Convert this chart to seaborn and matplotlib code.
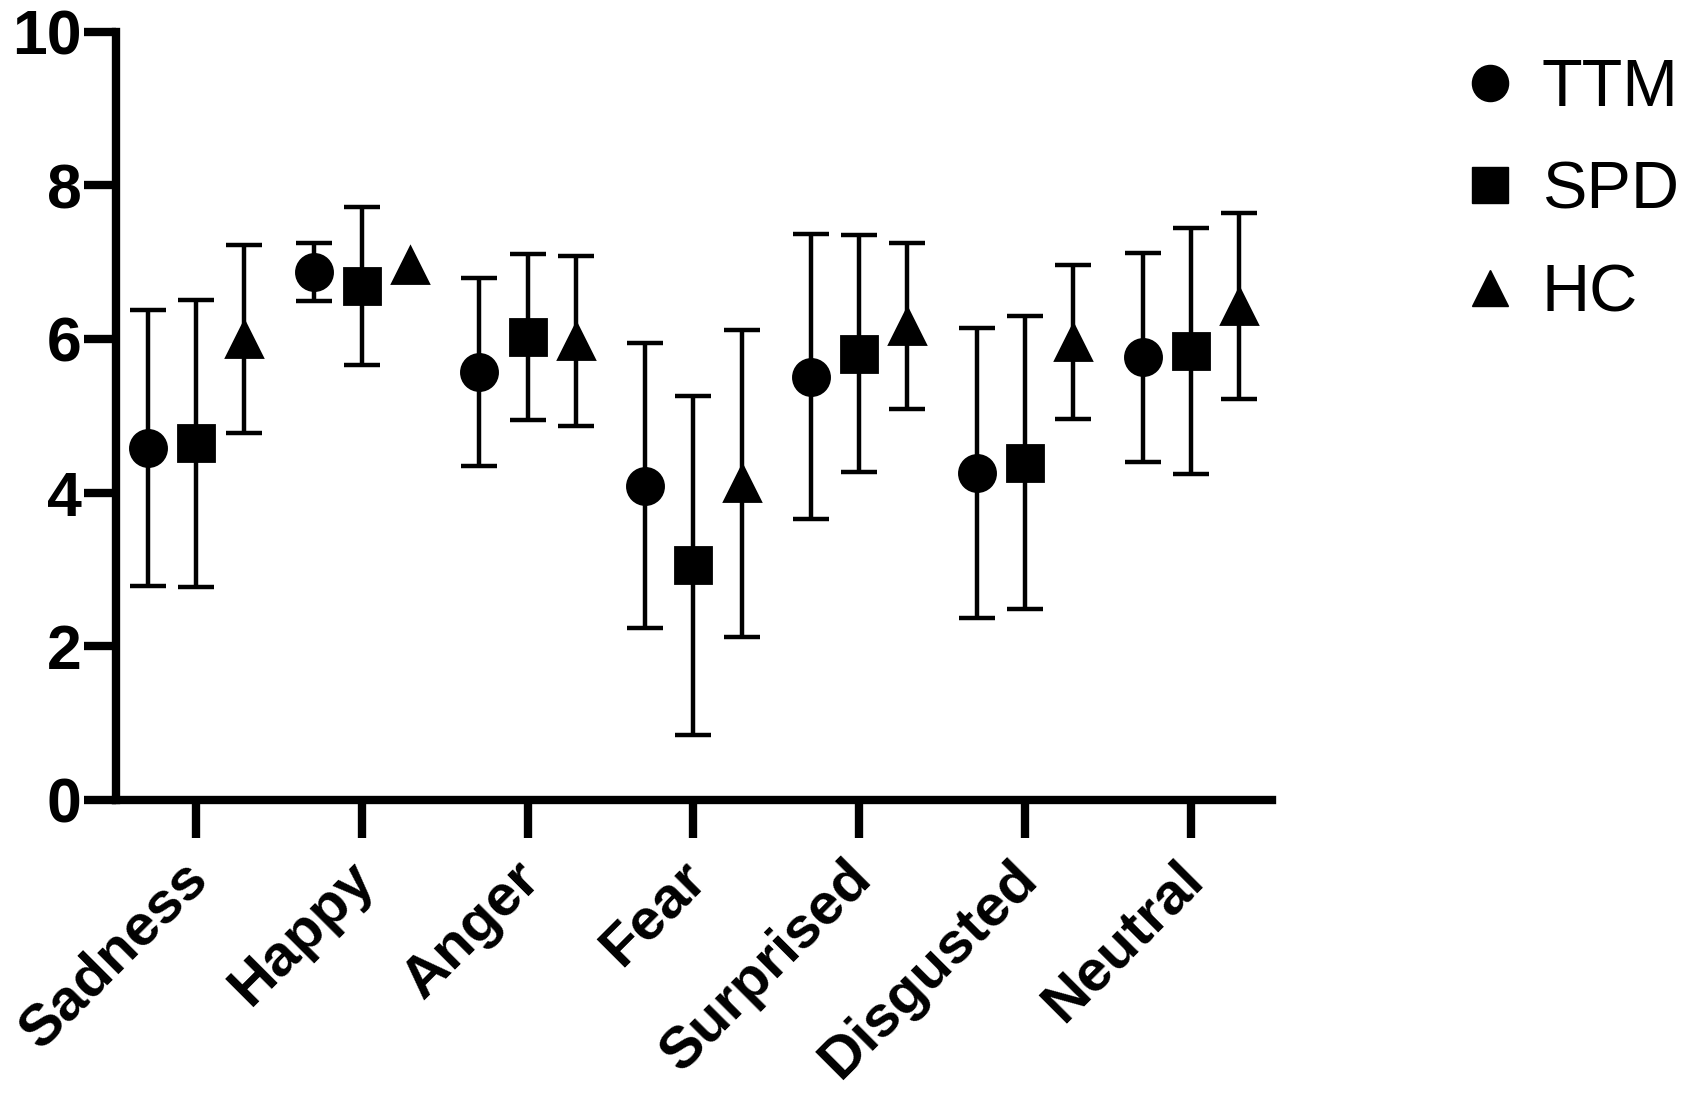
import numpy as np
import pandas as pd
import matplotlib
matplotlib.use("Agg")
import matplotlib.pyplot as plt
from matplotlib.lines import Line2D
from matplotlib.transforms import ScaledTranslation
import seaborn as sns

# Chart values (mean and SD per emotion)
emotions = ["Sadness", "Happy", "Anger", "Fear", "Surprised", "Disgusted", "Neutral"]
groups = ["TTM", "SPD", "HC"]

ttm_mean = [4.58, 6.87, 5.57, 4.09, 5.51, 4.25, 5.76]
ttm_sd = [1.80, 0.38, 1.22, 1.86, 1.85, 1.89, 1.36]
spd_mean = [4.64, 6.69, 6.02, 3.05, 5.81, 4.39, 5.84]
spd_sd = [1.87, 1.03, 1.08, 2.21, 1.54, 1.91, 1.60]
hc_mean = [6.00, 6.96, 5.97, 4.12, 6.17, 5.96, 6.43]
hc_sd = [1.22, 0.0, 1.11, 2.00, 1.08, 1.00, 1.21]

y_ticks = [0, 2, 4, 6, 8, 10]
markers = ["o", "s", "^"]

means = {"TTM": ttm_mean, "SPD": spd_mean, "HC": hc_mean}
sds = {"TTM": ttm_sd, "SPD": spd_sd, "HC": hc_sd}

rows = []
for g in groups:
    for e, m, s in zip(emotions, means[g], sds[g]):
        rows.append({"emotion": e, "group": g, "score": m, "sd": s})
df = pd.DataFrame(rows)

sns.set_style("ticks")
plt.rcParams["font.family"] = ["Liberation Sans", "DejaVu Sans"]
plt.rcParams["text.color"] = "black"
plt.rcParams["axes.edgecolor"] = "black"
plt.rcParams["xtick.color"] = "black"
plt.rcParams["ytick.color"] = "black"

fig = plt.figure(figsize=(17.08, 10.94), dpi=100)
ax = fig.add_axes([0.068, 0.269, 0.677, 0.702])

sns.pointplot(data=df, x="emotion", y="score", hue="group", order=emotions,
              hue_order=groups, palette=["black"] * 3, markers=markers,
              linestyles="none", dodge=0.58, errorbar=None, markersize=26,
              legend=False, ax=ax)

# error bars at the positions seaborn used for each group
for line, g in zip(ax.lines[:3], groups):
    xs = np.asarray(line.get_xdata(), dtype=float)
    sub = df[df["group"] == g].set_index("emotion").loc[emotions]
    keep = sub["sd"].values > 0
    ax.errorbar(xs[keep], sub["score"].values[keep], yerr=sub["sd"].values[keep],
                fmt="none", ecolor="black", elinewidth=3.2, capsize=13,
                capthick=3.2, zorder=1)

ax.set_ylim(0, 10)
ax.set_xlim(-0.48, 6.49)
ax.set_yticks(y_ticks)
ax.set_xlabel("")
ax.set_ylabel("")
sns.despine(ax=ax)
for sp in ["left", "bottom"]:
    ax.spines[sp].set_linewidth(6.0)
ax.tick_params(axis="y", length=23, width=6.0, pad=2, labelsize=45,
               labelcolor="black")
ax.tick_params(axis="x", length=27, width=6.0, pad=10, labelcolor="black")
for t in ax.get_yticklabels():
    t.set_fontweight("bold")
ax.set_xticks(range(len(emotions)))
ax.set_xticklabels(emotions, rotation=45, ha="right", rotation_mode="anchor",
                   fontweight="bold", fontsize=42)
shift = ScaledTranslation(-11 / 72, 0, fig.dpi_scale_trans)
for t in ax.get_xticklabels():
    t.set_transform(t.get_transform() + shift)

handles = [Line2D([], [], marker=m, color="black", linestyle="none", markersize=26)
           for m in markers]
fig.legend(handles, groups, loc="upper left", bbox_to_anchor=(0.853, 0.947),
           frameon=False, fontsize=48, handlelength=1.0, handletextpad=0.27,
           labelspacing=0.61, borderpad=0, borderaxespad=0)

fig.savefig("out.png", dpi=100)
